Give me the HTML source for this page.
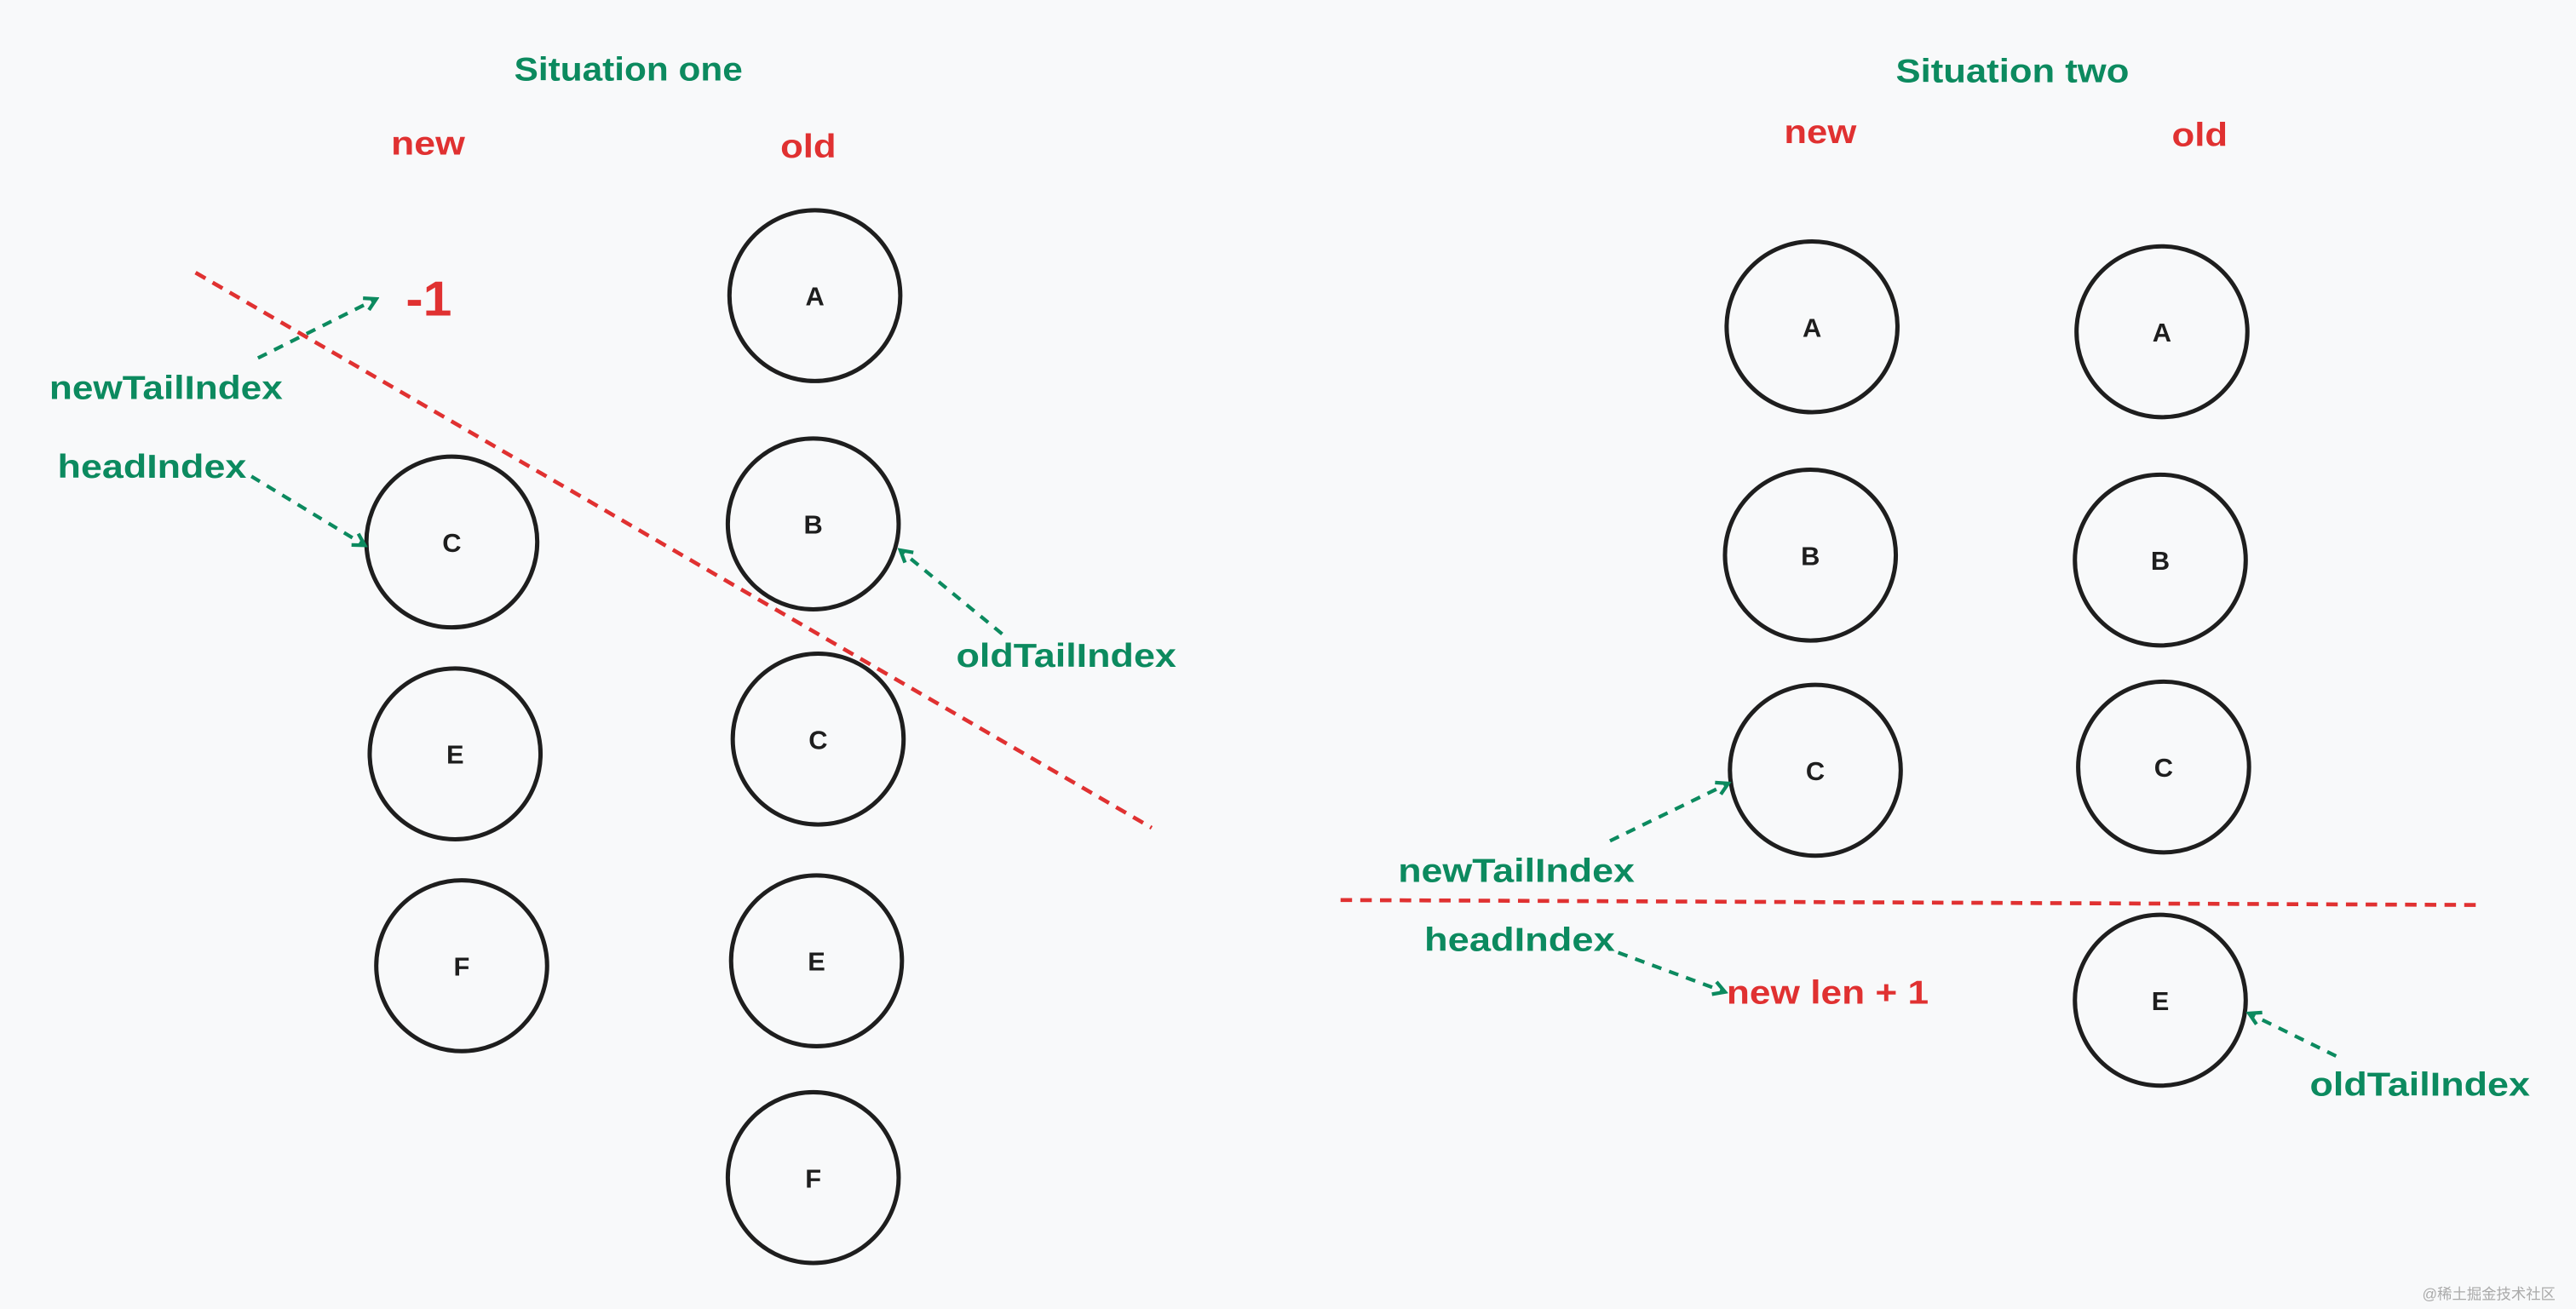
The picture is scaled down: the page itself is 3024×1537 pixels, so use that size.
<!DOCTYPE html>
<html><head><meta charset="utf-8"><style>
html,body{margin:0;padding:0;background:#f8f9fa;}
svg{display:block}
text{font-family:"Liberation Sans","Noto Sans CJK SC",sans-serif;font-weight:bold;}
</style></head><body>
<svg width="3024" height="1537" viewBox="0 0 1568 797" xmlns="http://www.w3.org/2000/svg">
<defs>
<marker id="ag" markerWidth="10" markerHeight="10" refX="8" refY="5" orient="auto" markerUnits="userSpaceOnUse">
<path d="M1,1 L8,5 L1,9" fill="none" stroke="#0c8a5f" stroke-width="2.2"/>
</marker>
</defs>
<rect width="1568" height="797" fill="#f8f9fa"/>
<g fill="none" stroke="#1e1e1e" stroke-width="2.6">
<circle cx="275" cy="330" r="52"/><circle cx="277" cy="459" r="52"/><circle cx="281" cy="588" r="52"/>
<circle cx="496" cy="180" r="52"/><circle cx="495" cy="319" r="52"/><circle cx="498" cy="450" r="52"/><circle cx="497" cy="585" r="52"/><circle cx="495" cy="717" r="52"/>
<circle cx="1103" cy="199" r="52"/><circle cx="1102" cy="338" r="52"/><circle cx="1105" cy="469" r="52"/>
<circle cx="1316" cy="202" r="52"/><circle cx="1315" cy="341" r="52"/><circle cx="1317" cy="467" r="52"/><circle cx="1315" cy="609" r="52"/>
</g>
<g font-size="16" fill="#1e1e1e" text-anchor="middle">
<text x="275" y="336">C</text><text x="277" y="465">E</text><text x="281" y="594">F</text>
<text x="496" y="186">A</text><text x="495" y="325">B</text><text x="498" y="456">C</text><text x="497" y="591">E</text><text x="495" y="723">F</text>
<text x="1103" y="205">A</text><text x="1102" y="344">B</text><text x="1105" y="475">C</text>
<text x="1316" y="208">A</text><text x="1315" y="347">B</text><text x="1317" y="473">C</text><text x="1315" y="615">E</text>
</g>
<g stroke="#e03131" stroke-width="2.4" stroke-dasharray="7,5">
<line x1="119" y1="166" x2="701" y2="504"/>
<line x1="816" y1="548" x2="1507" y2="551"/>
</g>
<g stroke="#0c8a5f" stroke-width="2.2" stroke-dasharray="6,5" marker-end="url(#ag)" fill="none">
<line x1="157" y1="218" x2="229" y2="182"/>
<line x1="153" y1="290" x2="222" y2="332"/>
<line x1="610" y1="386" x2="548" y2="335"/>
<line x1="980" y1="512" x2="1052" y2="477"/>
<line x1="985" y1="580" x2="1050" y2="604"/>
<line x1="1422" y1="643" x2="1369" y2="617"/>
</g>
<g font-size="20" fill="#0c8a5f">
<text x="313" y="49" textLength="139" lengthAdjust="spacingAndGlyphs">Situation one</text>
<text x="30" y="243" textLength="142" lengthAdjust="spacingAndGlyphs">newTailIndex</text>
<text x="35" y="291" textLength="115" lengthAdjust="spacingAndGlyphs">headIndex</text>
<text x="582" y="406" textLength="134" lengthAdjust="spacingAndGlyphs">oldTailIndex</text>
<text x="1154" y="50" textLength="142" lengthAdjust="spacingAndGlyphs">Situation two</text>
<text x="851" y="537" textLength="144" lengthAdjust="spacingAndGlyphs">newTailIndex</text>
<text x="867" y="579" textLength="116" lengthAdjust="spacingAndGlyphs">headIndex</text>
<text x="1406" y="667" textLength="134" lengthAdjust="spacingAndGlyphs">oldTailIndex</text>
</g>
<g font-size="20" fill="#e03131">
<text x="238" y="94" textLength="45" lengthAdjust="spacingAndGlyphs">new</text>
<text x="475" y="96" textLength="34" lengthAdjust="spacingAndGlyphs">old</text>
<text x="1086" y="87" textLength="44" lengthAdjust="spacingAndGlyphs">new</text>
<text x="1322" y="89" textLength="34" lengthAdjust="spacingAndGlyphs">old</text>
<text x="1051" y="611" textLength="123" lengthAdjust="spacingAndGlyphs">new len + 1</text>
<text x="247" y="192" font-size="30" textLength="28" lengthAdjust="spacingAndGlyphs">-1</text>
</g>
<text x="1515" y="791" font-size="9" fill="#aaaaaa" text-anchor="middle" style="font-weight:normal">@稀土掘金技术社区</text>
</svg>
</body></html>
